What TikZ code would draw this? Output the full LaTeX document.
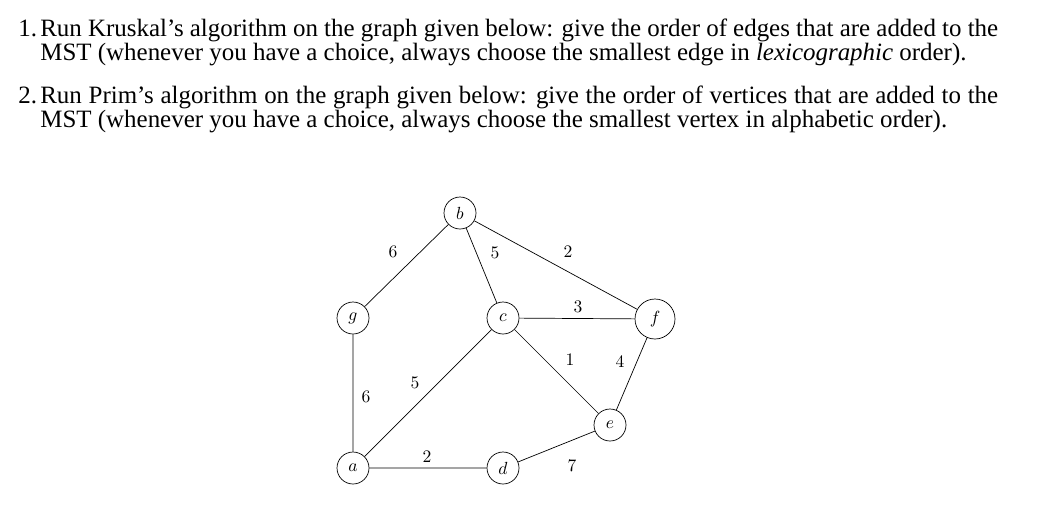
\documentclass[tikz,border=0pt]{standalone}
\usepackage{fontspec}
\setmainfont{Liberation Serif}
\newfontfamily\lmfont{Latin Modern Roman}
\newlength\lw \setlength\lw{19.16cm}
\begin{document}
\begin{tikzpicture}[x=0.02cm,y=-0.02cm,
  vtx/.style={draw,circle,inner sep=0pt,minimum size=32*0.02cm,font=\lmfont\fontsize{10}{10}\selectfont},
  wt/.style={font=\lmfont\fontsize{10}{10}\selectfont,inner sep=0pt},
  ln/.style={anchor=base west,inner sep=0pt,font=\fontsize{14.2}{14}\selectfont}]
\useasboundingbox (0,0) rectangle (1048,508);
\node[ln] (n1) at (18,36) {1.};
\node[ln] (t1a) at (40,36) {\hbox to \lw{Run Kruskal's algorithm on the graph given below: give the order of edges that are added to the}};
\node[ln] (t1b) at (40,60) {MST (whenever you have a choice, always choose the smallest edge in \textit{lexicographic} order).};
\node[ln] (n2) at (18,103) {2.};
\node[ln] (t2a) at (40,103) {\hbox to \lw{Run Prim's algorithm on the graph given below: give the order of vertices that are added to the}};
\node[ln] (t2b) at (40,127) {MST (whenever you have a choice, always choose the smallest vertex in alphabetic order).};
\node[vtx] (b) at (460,213) {$b$};
\node[vtx] (g) at (353,318) {$g$};
\node[vtx] (c) at (503,318) {$c$};
\node[vtx,minimum size=40*0.02cm] (f) at (655,319) {$f$};
\node[vtx] (e) at (610,425) {$e$};
\node[vtx] (a) at (353,468) {$a$};
\node[vtx] (d) at (503,468) {$d$};
\draw (b)--(g) (b)--(c) (b)--(f) (c)--(f) (c)--(e) (f)--(e) (g)--(a) (a)--(c) (a)--(d) (d)--(e);
\node[wt] (w1) at (393,252) {6};
\node[wt] (w2) at (495,253) {5};
\node[wt] (w3) at (568,252) {2};
\node[wt] (w4) at (578,307) {3};
\node[wt] (w5) at (570,360) {1};
\node[wt] (w6) at (620,362) {4};
\node[wt] (w7) at (415,383) {5};
\node[wt] (w8) at (366,397) {6};
\node[wt] (w9) at (427,457) {2};
\node[wt] (w10) at (572,466) {7};
\end{tikzpicture}
\end{document}
